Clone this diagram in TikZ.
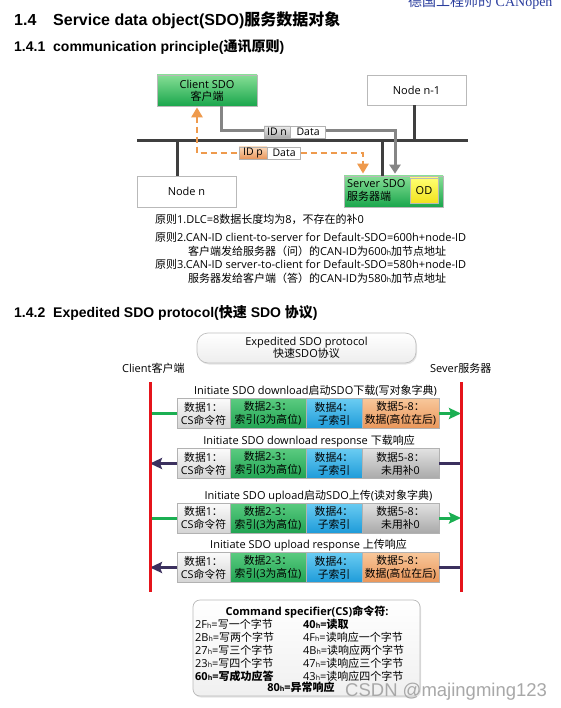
\documentclass[tikz,border=0pt]{standalone}
\usepackage{fontspec}
\setmainfont{Open Sans}
\newfontfamily\cjk{Noto Sans CJK SC}
\newfontfamily\arialf{Liberation Sans}
\newfontfamily\timesf{Liberation Serif}
\usetikzlibrary{arrows.meta,shadows}
\newcommand{\zh}[1]{{\cjk #1}}
\newcommand{\sh}{{\fontsize{7}{7}\selectfont h}}
\definecolor{gtop}{HTML}{86DE95}
\definecolor{gbot}{HTML}{19A64C}
\definecolor{busgray}{HTML}{3F3F3F}
\definecolor{arrgray}{HTML}{858585}
\definecolor{dorange}{HTML}{EE9A4D}
\definecolor{c1top}{HTML}{FBFBFB}
\definecolor{c1bot}{HTML}{D4D4D4}
\definecolor{c2top}{HTML}{5BCB80}
\definecolor{c2bot}{HTML}{20A352}
\definecolor{c3top}{HTML}{6ACCF2}
\definecolor{c3bot}{HTML}{1E9BD9}
\definecolor{c4top}{HTML}{F8C79A}
\definecolor{c4bot}{HTML}{E9965A}
\definecolor{c5top}{HTML}{E2E2E2}
\definecolor{c5bot}{HTML}{A9A9A9}
\definecolor{odtop}{HTML}{FFFF70}
\definecolor{odbot}{HTML}{F2E21E}
\definecolor{redl}{HTML}{E5141B}
\definecolor{greenl}{HTML}{1BAF52}
\definecolor{navyl}{HTML}{3B305E}
\definecolor{linkblue}{HTML}{2B3E9E}
\definecolor{wmgray}{HTML}{A8A8A8}
\tikzset{
  txt/.style={inner sep=0, font=\fontsize{11}{13}\selectfont},
  hd/.style={inner sep=0, anchor=base west, font=\arialf\bfseries\fontsize{14}{17}\selectfont},
  nodebox/.style={draw=gray!55, line width=0.7pt, inner sep=0, align=center, font=\fontsize{11}{12}\selectfont},
  greenbox/.style={nodebox, top color=gtop, bottom color=gbot},
  whitebox/.style={nodebox, fill=white},
  tag/.style={draw=gray!60, line width=0.6pt, inner sep=0, minimum height=12, font=\fontsize{10.5}{11}\selectfont},
  bus/.style={draw=busgray, line width=3pt},
  grayarrow/.style={draw=arrgray, line width=3pt, -{Triangle[length=9pt,width=11pt]}, shorten >=2pt},
  orangearrow/.style={draw=dorange, line width=2.5pt, dash pattern=on 6pt off 4pt, {Triangle[length=10pt,width=11pt]}-{Triangle[length=10pt,width=11pt]}, shorten >=2pt, shorten <=1pt},
  cell/.style={draw=gray!60, line width=0.6pt, inner sep=0, minimum height=30, align=center, font=\fontsize{10.8}{13}\selectfont},
  cellgray/.style={top color=c1top, bottom color=c1bot},
  cellgreen/.style={top color=c2top, bottom color=c2bot},
  cellblue/.style={top color=c3top, bottom color=c3bot},
  cellorange/.style={top color=c4top, bottom color=c4bot},
  celldark/.style={top color=c5top, bottom color=c5bot},
  redline/.style={draw=redl, line width=3pt},
  greenline/.style={draw=greenl, line width=3pt},
  navyline/.style={draw=navyl, line width=3pt},
  tipend/.style={-{Stealth[length=12pt,width=11pt,inset=2pt]}},
}
\newcommand{\msgrow}[4]{%
  \node[cell,cellgray,minimum width=53] (#1a) at (203.5,#2) {\zh{数据}1\zh{：}\\CS\zh{命令符}};
  \node[cell,cellgreen,minimum width=76] (#1b) at (268,#2) {\zh{数据}2-3\zh{：}\\\zh{索引}(3\zh{为高位})};
  \node[cell,cellblue,minimum width=56] (#1c) at (334,#2) {\zh{数据}4\zh{：}\\\zh{子索引}};
  \node[cell,#3,minimum width=77] (#1d) at (400.5,#2) {\zh{数据}5-8\zh{：}\\#4};
}
\begin{document}
\begin{tikzpicture}[x=1pt,y=-1pt]
\useasboundingbox[fill=white] (0,0) rectangle (561,708);

% clipped header text at top right
\node[inner sep=0, anchor=base west, text=linkblue, font=\timesf\fontsize{14}{14}\selectfont] (toptext) at (408,6.5) {\zh{德国工程师的} CANopen};

% headings
\node[hd, font=\arialf\bfseries\fontsize{16}{19}\selectfont] (h1) at (14,26) {\makebox[39pt][l]{1.4}Service data object(SDO)\zh{服务数据对象}};
\node[hd] (h2) at (14,52) {\makebox[39pt][l]{1.4.1}communication principle(\zh{通讯原则})};
\node[hd] (h3) at (14,317) {\makebox[39pt][l]{1.4.2}Expedited SDO protocol(\zh{快速} SDO \zh{协议})};

% ---------- communication principle ----------
\node[greenbox, minimum width=100, minimum height=31] (client) at (207,90.5) {Client SDO\\\zh{客户端}};
\node[whitebox, minimum width=99, minimum height=30] (nn1) at (416.5,90) {Node n-1};
\node[whitebox, minimum width=99, minimum height=31] (noden) at (186.5,191.5) {Node n};
\node[greenbox, minimum width=99, minimum height=31] (server) at (393.5,191.5) {};
\node[nodebox, top color=odtop, bottom color=odbot, minimum width=28, minimum height=25] (od) at (424,190.5) {OD};
\node[inner sep=0, anchor=west, align=left, font=\fontsize{11}{13}\selectfont] (servertxt) at (347,190.5) {Server SDO\\\zh{服务器端}};

\coordinate (busL) at (137,141);
\coordinate (busR) at (468,141);
\coordinate (b1) at (177,141);
\coordinate (b2) at (414,141);
\coordinate (b3) at (382,141);
\draw[bus] (busL) -- (busR);
\draw[bus] (b1) -- (b1 |- noden.north);
\draw[bus] (b2) -- (b2 |- nn1.south);
\draw[bus] (b3) -- (b3 |- server.north);

\coordinate (gc) at (221,131);
\coordinate (gs) at (395,131);
\draw[grayarrow] (gc |- client.south) -- (gc) -- (gs) -- (gs |- server.north);

\coordinate (oc) at (197,153);
\coordinate (os) at (363,153);
\draw[orangearrow] (oc |- client.south) -- (oc) -- (os) -- (os |- server.north);

\node[tag, top color=c5top!60!white, bottom color=c5bot, minimum width=26] (idn) at (277,132) {ID n};
\node[tag, fill=white, minimum width=35, anchor=west] (datan) at (idn.east) {Data};
\node[tag, top color=c4top!70!white, bottom color=c4bot, minimum width=28] (idp) at (253,153) {ID p};
\node[tag, fill=white, minimum width=33, anchor=west] (datap) at (idp.east) {Data};

\node[txt, anchor=base west] (p1) at (155,224) {\zh{原则}1.DLC=8\zh{数据长度均为}8\zh{，不存在的补}0};
\node[txt, anchor=base west] (p2) at (155,242) {\zh{原则}2.CAN-ID client-to-server for Default-SDO=600h+node-ID};
\node[txt, anchor=base west] (p2b) at (188,255) {\zh{客户端发给服务器（问）的}CAN-ID\zh{为}600\sh\zh{加节点地址}};
\node[txt, anchor=base west] (p3) at (155,269) {\zh{原则}3.CAN-ID server-to-client for Default-SDO=580h+node-ID};
\node[txt, anchor=base west] (p3b) at (188,282) {\zh{服务器发给客户端（答）的}CAN-ID\zh{为}580\sh\zh{加节点地址}};

% ---------- expedited SDO protocol ----------
\node[draw=gray!50, line width=0.7pt, rounded corners=11pt, top color=white, bottom color=gray!14, minimum width=219, minimum height=30, inner sep=0, align=center, font=\fontsize{11}{12}\selectfont, drop shadow={opacity=0.2, shadow xshift=1pt, shadow yshift=-1.5pt}] (ptitle) at (306.5,348) {Expedited SDO protocol\\\zh{快速}SDO\zh{协议}};
\node[txt, anchor=base west] (clab) at (122,372) {Client\zh{客户端}};
\node[txt, anchor=base west] (slab) at (430,372) {Sever\zh{服务器}};

\coordinate (ltop) at (150,382);
\coordinate (lbot) at (150,592);
\coordinate (rtop) at (461,382);
\coordinate (rbot) at (461,592);

\node[txt, anchor=base] (t1) at (315.5,394) {Initiate SDO download\zh{启动}SDO\zh{下载}(\zh{写对象字典})};
\msgrow{ra}{413.5}{cellorange}{\zh{数据}(\zh{高位在后})}
\node[txt, anchor=base] (t2) at (309,444) {Initiate SDO download response \zh{下载响应}};
\msgrow{rb}{463.5}{celldark}{\zh{未用补}0}
\node[txt, anchor=base] (t3) at (318.5,499) {Initiate SDO upload\zh{启动}SDO\zh{上传}(\zh{读对象字典})};
\msgrow{rc}{518}{celldark}{\zh{未用补}0}
\node[txt, anchor=base] (t4) at (308.5,548) {Initiate SDO upload response \zh{上传响应}};
\msgrow{rd}{567.5}{cellorange}{\zh{数据}(\zh{高位在后})}

\draw[greenline] (raa.west -| ltop) -- (raa.west);
\draw[greenline, tipend] (rad.east) -- (rad.east -| rtop);
\draw[navyline] (rbd.east -| rtop) -- (rbd.east);
\draw[navyline, tipend] (rba.west) -- (rba.west -| ltop);
\draw[greenline] (rca.west -| ltop) -- (rca.west);
\draw[greenline, tipend] (rcd.east) -- (rcd.east -| rtop);
\draw[navyline] (rdd.east -| rtop) -- (rdd.east);
\draw[navyline, tipend] (rda.west) -- (rda.west -| ltop);

\draw[redline] (ltop) -- (lbot);
\draw[redline] (rtop) -- (rbot);

% ---------- command specifier box ----------
\node[draw=gray!55, line width=0.7pt, rounded corners=7pt, top color=white, bottom color=gray!12, minimum width=227, minimum height=96, inner sep=0, drop shadow={opacity=0.2, shadow xshift=1pt, shadow yshift=-1.5pt}] (csbox) at (306.5,648) {};
\node[txt, anchor=base] (cst) at (307,615) {\bfseries Command specifier(CS)\zh{命令符}:};
\node[txt, anchor=base west] (l1) at (195,628) {2F\sh=\zh{写一个字节}};
\node[txt, anchor=base west] (l2) at (195,641) {2B\sh=\zh{写两个字节}};
\node[txt, anchor=base west] (l3) at (195,654) {27\sh=\zh{写三个字节}};
\node[txt, anchor=base west] (l4) at (195,667) {23\sh=\zh{写四个字节}};
\node[txt, anchor=base west] (l5) at (195,680) {\bfseries 60\sh=\zh{写成功应答}};
\node[txt, anchor=base west] (r1) at (303,628) {\bfseries 40\sh=\zh{读取}};
\node[txt, anchor=base west] (r2) at (303,641) {4F\sh=\zh{读响应一个字节}};
\node[txt, anchor=base west] (r3) at (303,654) {4B\sh=\zh{读响应两个字节}};
\node[txt, anchor=base west] (r4) at (303,667) {47\sh=\zh{读响应三个字节}};
\node[txt, anchor=base west] (r5) at (303,680) {43\sh=\zh{读响应四个字节}};
\node[txt, anchor=base] (b80) at (301,691) {\bfseries 80\sh=\zh{异常响应}};

% watermark
\node[inner sep=0, anchor=base west, text=wmgray, font=\arialf\fontsize{18.5}{20}\selectfont] (wm) at (345,696) {CSDN @majingming123};
\end{tikzpicture}
\end{document}
